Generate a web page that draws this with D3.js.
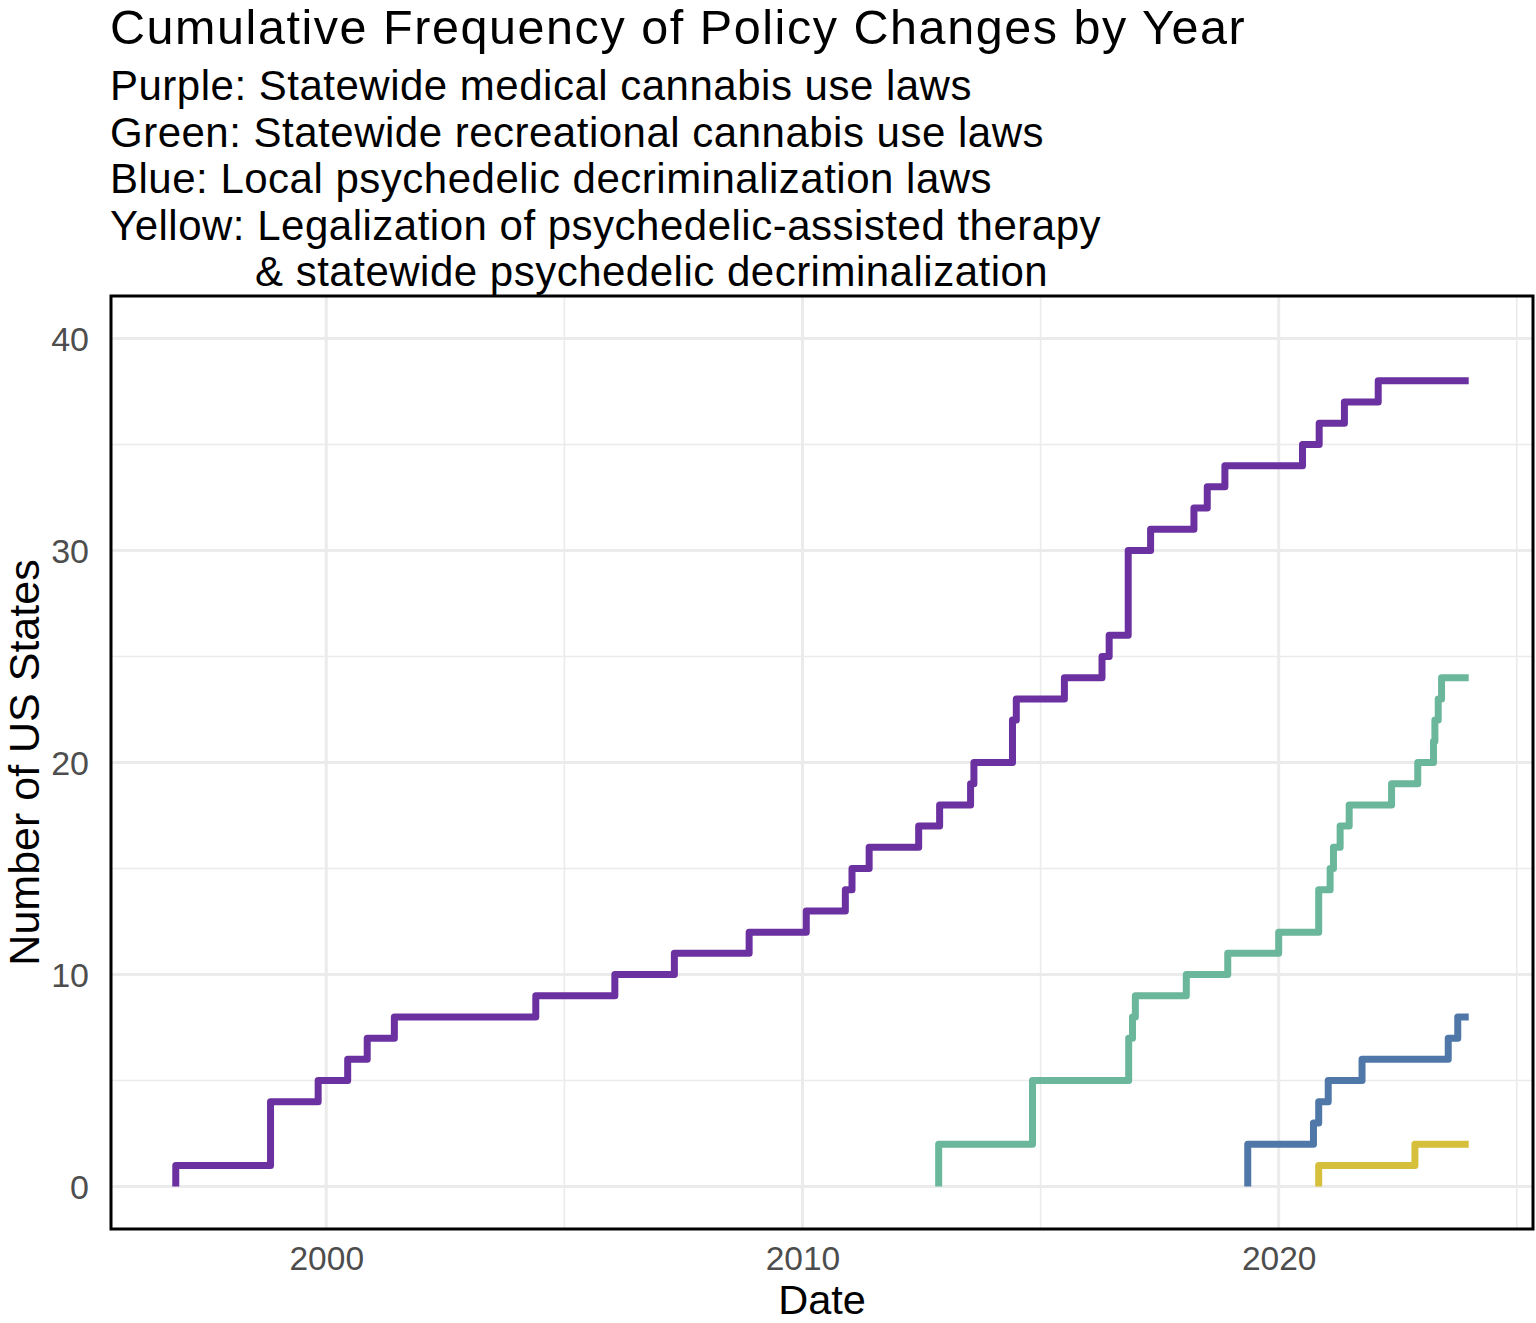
<!DOCTYPE html>
<html><head><meta charset="utf-8">
<script src="https://cdn.jsdelivr.net/npm/d3@7"></script>
<style>
html,body{margin:0;padding:0;background:#fff;}
text{font-family:"Liberation Sans",Arial,Helvetica,sans-serif;}
</style></head>
<body><svg id="chart" width="1536" height="1323"></svg>
<script>
// ---- data (decimal years, cumulative counts) ----
const purpleDates  = [1996.84,1996.84,1998.83,1999.83,2000.45,2000.86,2001.43,2004.40,2006.06,2007.31,2008.88,2010.08,2010.90,2011.04,2011.40,2012.44,2012.88,2013.53,2013.60,2014.41,2014.49,2015.50,2016.29,2016.44,2016.84,2017.31,2018.22,2018.50,2018.87,2020.50,2020.85,2021.38,2022.09,2023.99];
const purpleCounts = [0,1,4,5,6,7,8,9,10,11,12,13,14,15,16,17,18,19,20,22,23,24,25,26,30,31,32,33,34,35,36,37,38,38];
const greenDates   = [2012.86,2012.86,2014.83,2016.85,2016.93,2016.99,2018.06,2018.93,2020.00,2020.84,2021.08,2021.15,2021.29,2021.48,2022.37,2022.92,2023.25,2023.28,2023.35,2023.42,2023.99];
const greenCounts  = [0,2,5,7,8,9,10,11,12,14,15,16,17,18,19,20,21,22,23,24,24];
const blueDates    = [2019.35,2019.35,2020.73,2020.84,2021.04,2021.75,2023.56,2023.76,2023.99];
const blueCounts   = [0,2,3,4,5,6,7,8,8];
const yellowDates  = [2020.84,2020.84,2022.86,2023.99];
const yellowCounts = [0,1,2,2];

const seriesNames  = ["Purple","Green","Blue","Yellow"];
const seriesColors = ["#6c31a1","#6ab79b","#4f78a8","#d5bf3b"];
const xTicks = [2000,2010,2020];
const xMinor = [1995,2005,2015,2025];
const yTicks = [0,10,20,30,40];
const yMinor = [5,15,25,35];

const title = "Cumulative Frequency of Policy Changes by Year";
const subtitleLines = [
  "Purple: Statewide medical cannabis use laws",
  "Green: Statewide recreational cannabis use laws",
  "Blue: Local psychedelic decriminalization laws",
  "Yellow: Legalization of psychedelic-assisted therapy",
  "& statewide psychedelic decriminalization"
];
const xTitle = "Date", yTitle = "Number of US States";

// ---- layout ----
const svg = d3.select("#chart");
const P = {left:111, right:1533, top:296, bottom:1229};
const x = d3.scaleLinear().domain([1995.48, 2025.34]).range([P.left, P.right]);
const y = d3.scaleLinear().domain([-2, 42]).range([P.bottom, P.top]);

// titles
svg.append("text").attr("x",110).attr("y",44).attr("font-size",48.5).attr("letter-spacing",1.55)
  .attr("fill","#000").text(title);
const sub = svg.append("text").attr("font-size",42).attr("letter-spacing",0.5).attr("fill","#000");
subtitleLines.forEach((l,i)=>{
  sub.append("tspan").attr("x", i===4 ? 255 : 110).attr("y",100+i*46.6).text(l);
});

// grid
const g = svg.append("g");
g.selectAll(".ymin").data(yMinor).join("line")
  .attr("x1",P.left).attr("x2",P.right).attr("y1",d=>y(d)).attr("y2",d=>y(d))
  .attr("stroke","#ebebeb").attr("stroke-width",1.6);
g.selectAll(".xmin").data(xMinor.filter(d=>x(d)>P.left && x(d)<P.right)).join("line")
  .attr("y1",P.top).attr("y2",P.bottom).attr("x1",d=>x(d)).attr("x2",d=>x(d))
  .attr("stroke","#ebebeb").attr("stroke-width",1.6);
g.selectAll(".ymaj").data(yTicks).join("line")
  .attr("x1",P.left).attr("x2",P.right).attr("y1",d=>y(d)).attr("y2",d=>y(d))
  .attr("stroke","#ebebeb").attr("stroke-width",3);
g.selectAll(".xmaj").data(xTicks).join("line")
  .attr("y1",P.top).attr("y2",P.bottom).attr("x1",d=>x(d)).attr("x2",d=>x(d))
  .attr("stroke","#ebebeb").attr("stroke-width",3);

// axes (labels only)
const xAxis = d3.axisBottom(x).tickValues(xTicks).tickFormat(d3.format("d")).tickSize(0).tickPadding(0);
const xa = svg.append("g").attr("transform",`translate(0,${P.bottom})`).call(xAxis);
xa.select(".domain").remove();
xa.selectAll("text").attr("font-size",33.5).attr("fill","#4d4d4d").attr("dy",null).attr("y",41)
  .attr("font-family","'Liberation Sans',Arial,sans-serif");
const yAxis = d3.axisLeft(y).tickValues(yTicks).tickFormat(d3.format("d")).tickSize(0).tickPadding(0);
const ya = svg.append("g").attr("transform",`translate(${P.left},0)`).call(yAxis);
ya.select(".domain").remove();
ya.selectAll("text").attr("font-size",34).attr("fill","#4d4d4d").attr("x",-22).attr("dy","0.36em")
  .attr("font-family","'Liberation Sans',Arial,sans-serif");

svg.append("text").attr("x",(P.left+P.right)/2).attr("y",1314).attr("text-anchor","middle")
  .attr("font-size",41.5).attr("fill","#000").text(xTitle);
svg.append("text").attr("transform",`translate(39,${(P.top+P.bottom)/2}) rotate(-90)`)
  .attr("text-anchor","middle").attr("font-size",43).attr("fill","#000").text(yTitle);

// lines
const series = [
  d3.zip(purpleDates,purpleCounts),
  d3.zip(greenDates,greenCounts),
  d3.zip(blueDates,blueCounts),
  d3.zip(yellowDates,yellowCounts)
];
const line = d3.line().x(d=>x(d[0])).y(d=>y(d[1])).curve(d3.curveStepAfter);
svg.append("g").selectAll("path").data(series).join("path")
  .attr("d",line).attr("fill","none")
  .attr("stroke",(d,i)=>seriesColors[i]).attr("stroke-width",7)
  .attr("stroke-linejoin","round").attr("stroke-linecap","butt")
  .attr("data-name",(d,i)=>seriesNames[i]);

// panel border
svg.append("rect").attr("x",P.left).attr("y",P.top).attr("width",P.right-P.left).attr("height",P.bottom-P.top)
  .attr("fill","none").attr("stroke","#000").attr("stroke-width",3);
</script></body></html>
